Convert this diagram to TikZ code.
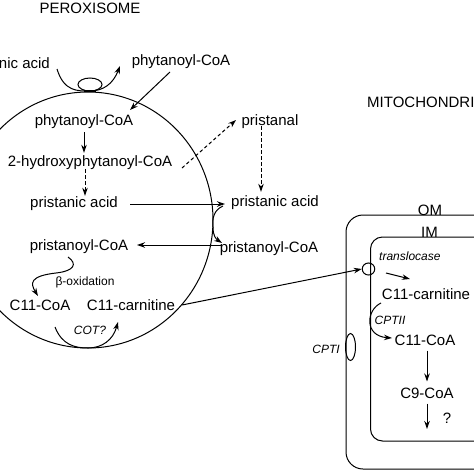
\documentclass[tikz,border=0pt]{standalone}
\usepackage{fontspec}
\setmainfont{Liberation Sans}
\usetikzlibrary{arrows.meta,calc,shapes.geometric}
\begin{document}
\begin{tikzpicture}[x=1pt,y=-1pt,
  lbl/.style={font=\fontsize{15}{18}\selectfont, inner sep=0pt},
  sm/.style={font=\fontsize{12}{14}\selectfont\itshape, inner sep=0pt},
  smu/.style={font=\fontsize{12}{14}\selectfont, inner sep=0pt},
  ar/.style={-{Stealth[length=8pt,width=5.5pt]}, line width=1pt},
  dar/.style={ar, dash pattern=on 3.5pt off 2.5pt},
  mem/.style={line width=1pt}]
\useasboundingbox (0,0) rectangle (474,474);
% texts
\node[lbl] (perox) at (90,8) {PEROXISOME};
\node[lbl, anchor=base east] (phyac) at (50,68) {phytanic acid};
\node[lbl] (phycoaout) at (181,62) {phytanoyl-CoA};
\node[lbl] (phycoa) at (84,122) {phytanoyl-CoA};
\node[lbl] (hydroxy) at (90,163) {2-hydroxyphytanoyl-CoA};
\node[lbl] (prac) at (74,204) {pristanic acid};
\node[lbl] (pristanal) at (270,122) {pristanal};
\node[lbl] (pracout) at (275,203) {pristanic acid};
\node[lbl] (prcoaout) at (269,249) {pristanoyl-CoA};
\node[lbl] (prcoa) at (79,247) {pristanoyl-CoA};
\node[smu] (beta) at (85,282) {β-oxidation};
\node[lbl] (c11coa) at (40,305) {C11-CoA};
\node[lbl] (c11car) at (131,305) {C11-carnitine};
\node[sm] (cot) at (90,330) {COT?};
\node[lbl, anchor=west] (mito) at (367,102) {MITOCHONDRIA};
\node[lbl, anchor=base] (om) at (430,215) {OM};
\node[lbl, anchor=base] (im) at (429.5,237) {IM};
\node[sm, anchor=west] (transl) at (379,256) {translocase};
\node[lbl] (c11carm) at (426,294) {C11-carnitine};
\node[sm] (cptii) at (390,320) {CPTII};
\node[lbl] (c11coam) at (425,340) {C11-CoA};
\node[lbl] (c9coa) at (427,393) {C9-CoA};
\node[lbl] (q) at (447,418) {?};
\node[sm] (cpti) at (326,349) {CPTI};
% peroxisome
\draw[mem] (88,220) ellipse [x radius=125pt, y radius=128pt];
\draw[mem] (90,84.5) ellipse [x radius=12pt, y radius=6.5pt];
\draw[line width=2.2pt] (84,91) -- (96,91);
% mitochondrion membranes
\draw[mem, rounded corners=17pt] (500,215) -- (346,215) -- (346,469) -- (500,469);
\draw[mem, rounded corners=12pt] (500,237) -- (370.5,237) -- (370.5,441) -- (500,441);
\node[draw, line width=1pt, ellipse, minimum width=12.5pt, minimum height=12pt, inner sep=0pt] (transp) at (368.5,269) {};
\node[draw, line width=1pt, ellipse, minimum width=10pt, minimum height=27pt, inner sep=0pt] (cptiov) at (350.5,347) {};
% coordinates for connector ends
\coordinate (t1) at (57,69);
\coordinate (t2) at (120,66);
\coordinate (pa1) at (130,204);
\coordinate (pa2) at (225,204);
\coordinate (pc1) at (222,245);
\coordinate (pc2) at (137,245);
\coordinate (cv1) at (223,206);
\coordinate (cv2) at (222,243);
\coordinate (cc) at (182,305);
\coordinate (tr1) at (386,273);
\coordinate (tr2) at (410,279);
% connectors
\draw[ar] (t1) .. controls (64,92) and (78,91) .. (90,91) .. controls (103,91) and (113,84) .. (t2);
\draw[ar] (170,72) -- (130,110);
\draw[ar] (phycoa.south) ++(0,3) -- ($(hydroxy.north)+(-6,-3)$);
\draw[dar] ($(hydroxy.south)+(-5,-1)$) -- ($(prac.north)+(11,-1)$);
\draw[dar] (182,168) -- (236,120);
\draw[dar] ($(pristanal.south)+(-9,-3)$) -- ($(pracout.north)+(-14,-4)$);
\draw[ar] (pa1) -- (pa2);
\draw[ar] (cv1) .. controls (214,210) and (212,218) .. (213,227) .. controls (213,236) and (216,239) .. (cv2);
\draw[ar] (pc1) -- (pc2);
\draw[ar] (68,257) .. controls (78,264) and (74,271) .. (56,273) .. controls (30,276) and (30,283) .. (38,296);
\draw[ar] (55,327) .. controls (62,345) and (75,348) .. (88,348) .. controls (102,348) and (113,340) .. (118,322);
\draw[ar] (cc) -- (transp.west);
\draw[ar] (tr1) -- (tr2);
\draw[ar] (381,303) .. controls (366,310) and (364,336) .. (392,338);
\draw[ar] ($(c11coam.south)+(2,5)$) -- ($(c9coa.north)+(0,-6)$);
\draw[ar] ($(c9coa.south)+(0,5)$) -- (427,429);
\end{tikzpicture}
\end{document}
